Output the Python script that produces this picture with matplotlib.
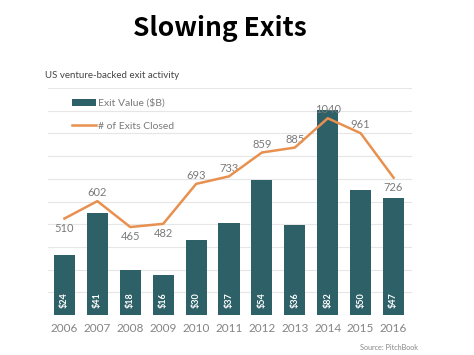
import matplotlib
matplotlib.use("Agg")
import matplotlib.pyplot as plt
import numpy as np

years = ["2006", "2007", "2008", "2009", "2010", "2011", "2012", "2013", "2014", "2015", "2016"]
exit_value = [24, 41, 18, 16, 30, 37, 54, 36, 82, 50, 47]
exits_closed = [510, 602, 465, 482, 693, 733, 859, 885, 1040, 961, 726]
label_below = [True, False, True, True, False, False, False, False, False, False, True]

W, H = 474, 355
fig = plt.figure(figsize=(W / 100, H / 100), dpi=100)
fig.patch.set_facecolor("white")

L, R, B, T = 48, 412, 315, 88
ax = fig.add_axes([L / W, 1 - B / H, (R - L) / W, (B - T) / H])
x = np.arange(len(years))

bar_color = "#2e6068"
line_color = "#e8904f"
gray = "#7a7a7a"

ax.set_ylim(0, 90.8)
ax.set_xlim(-0.5, 10.56)
for i in range(0, 11):
    ax.axhline(i * 90.8 / 10, color="#e6e6e6", lw=0.8, zorder=0)
bars = ax.bar(x, exit_value, width=0.64, color=bar_color, zorder=2, label="Exit Value ($B)")
for xi, v in zip(x, exit_value):
    ax.text(xi, 6, f"${v}", rotation=90, ha="center", va="center", color="white",
            fontsize=6.5, fontweight="bold", family="Lato", zorder=3)

for s in ax.spines.values():
    s.set_visible(False)
ax.set_yticks([])
ax.set_xticks(x)
ax.set_xticklabels(years, fontsize=8.5, color="#858585", family="Lato")
ax.tick_params(axis="x", length=0, pad=6)

ax2 = ax.twinx()
ax2.set_ylim(0, 1200)
ax2.set_yticks([])
for s in ax2.spines.values():
    s.set_visible(False)
line, = ax2.plot(x, exits_closed, color=line_color, lw=1.8, zorder=4, label="# of Exits Closed")
for xi, v, below in zip(x, exits_closed, label_below):
    if below:
        ax2.annotate(str(v), (xi, v), xytext=(0, -3), textcoords="offset points",
                     ha="center", va="top", fontsize=8, color=gray, family="Lato")
    else:
        ax2.annotate(str(v), (xi, v), xytext=(0, 2), textcoords="offset points",
                     ha="center", va="bottom", fontsize=8, color=gray, family="Lato")

leg = ax2.legend([bars, line], ["Exit Value ($B)", "# of Exits Closed"], loc="upper left",
                 bbox_to_anchor=(0.04, 0.995), frameon=False,
                 handlelength=2.3, handletextpad=0.2, labelspacing=1.3,
                 prop={"family": "Lato", "size": 7.5})
for t in leg.get_texts():
    t.set_color("#7a7a7a")

fig.text(220 / W, 1 - 28 / H, "Slowing Exits", ha="center", va="center", fontsize=19,
         fontweight="bold", family="Noto Sans CJK KR", color="black")
fig.text(45 / W, 1 - 75 / H, "US venture-backed exit activity", ha="left", va="center",
         fontsize=7, family="Lato", color="#444444")
fig.text(418 / W, 1 - 348 / H, "Source: PitchBook", ha="right", va="center",
         fontsize=5.2, family="Lato", color="#888888")

fig.savefig("out.png", dpi=100)
